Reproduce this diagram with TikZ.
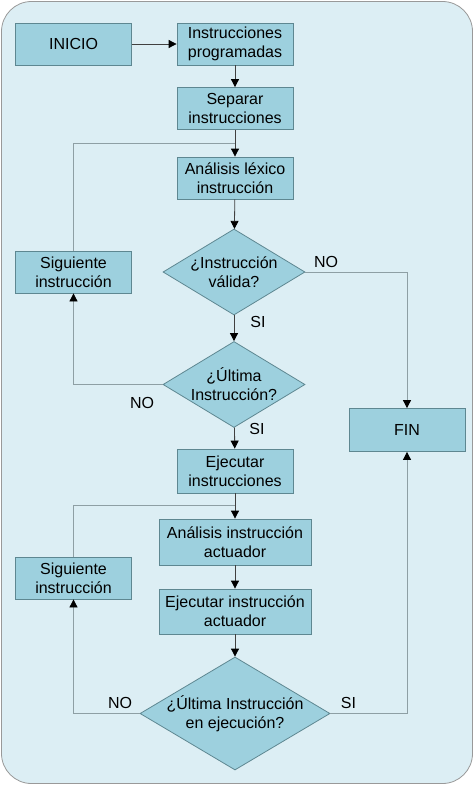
\documentclass[tikz,border=0pt]{standalone}
\usepackage{fontspec}
\setmainfont{Liberation Sans}
\usetikzlibrary{arrows.meta,shapes.geometric}
\definecolor{fondo}{HTML}{DCEEF4}
\definecolor{caja}{HTML}{9DD0DE}
\definecolor{borde}{HTML}{5E8791}
\definecolor{linea}{HTML}{8E9FA4}
\tikzset{
	bloque/.style={rectangle,fill=caja,draw=borde,line width=0.8,inner sep=0pt,align=center,minimum width=116bp,minimum height=42bp},
	bloqueancho/.style={bloque,minimum width=152bp,minimum height=46bp},
	decision/.style={diamond,fill=caja,draw=borde,line width=0.8,inner sep=0pt},
	flecha/.style={line width=0.8,draw=black!75,-{Triangle[length=8bp,width=8bp,color=black]}},
	retorno/.style={line width=0.8,draw=linea},
	etiqueta/.style={inner sep=0pt}
}
\begin{document}
\begin{tikzpicture}[x=1bp,y=-1bp,font=\fontsize{16bp}{19bp}\selectfont]
				\useasboundingbox (0,0) rectangle (474,785);
				\draw [rounded corners=30bp,fill=fondo,draw=gray!80,line width=0.8] (1.5,1.5) rectangle (472.5,783.5);
				\node [bloque] (inicio) at (73.5,44) {INICIO};
				\node [bloque] (prog) at (235,44) {Instrucciones\\programadas};
				\node [bloque] (separar) at (235,108.5) {Separar\\instrucciones};
				\node [bloque] (lexico) at (235,178) {Análisis léxico\\instrucción};
				\node [decision,minimum width=142bp,minimum height=86bp] (valida) at (234,272) {};
				\node (valida-t) at (valida) [align=center] {¿Instrucción\\válida?};
				\node [bloque] (sig1) at (73.5,272) {Siguiente\\instrucción};
				\node [decision,minimum width=142bp,minimum height=86bp] (ultima) at (234,384.5) {};
				\node (ultima-t) at (ultima) [align=center] {¿Última\\Instrucción?};
				\node [bloque,minimum height=43bp] (fin) at (407,430) {FIN};
				\node [bloque,minimum height=44bp] (ejec) at (235,471) {Ejecutar\\instrucciones};
				\node [bloqueancho] (analisis) at (235,542) {Análisis instrucción\\actuador};
				\node [bloqueancho,minimum height=45bp] (ejact) at (235,611.5) {Ejecutar instrucción\\actuador};
				\node [bloque] (sig2) at (73.5,578) {Siguiente\\instrucción};
				\node [decision,minimum width=190bp,minimum height=113bp] (ejecucion) at (235,713.5) {};
				\node (ejecucion-t) at (ejecucion) [align=center] {¿Última Instrucción\\en ejecución?};
				\coordinate (j1) at (235,143);
				\coordinate (j2) at (235,505);
				\draw [flecha] (inicio) -- (prog);
				\draw [flecha] (prog) -- (separar);
				\draw [flecha] (separar) -- (lexico);
				\draw [retorno] (sig1.north) |- (j1);
				\draw [flecha] (lexico) -- (valida);
				\draw [retorno,-{Triangle[length=8bp,width=8bp,color=black]}] (valida.east) -| (fin.north);
				\draw [flecha] (valida) -- (ultima);
				\draw [retorno,-{Triangle[length=8bp,width=8bp,color=black]}] (ultima.west) -| (sig1.south);
				\draw [flecha] (ultima) -- (ejec);
				\draw [flecha] (ejec) -- (analisis);
				\draw [retorno] (sig2.north) |- (j2);
				\draw [flecha] (analisis) -- (ejact);
				\draw [flecha] (ejact) -- (ejecucion);
				\draw [retorno,-{Triangle[length=8bp,width=8bp,color=black]}] (ejecucion.west) -| (sig2.south);
				\draw [retorno,-{Triangle[length=8bp,width=8bp,color=black]}] (ejecucion.east) -| (fin.south);
				\node [etiqueta] (no1) at (326,262) {NO};
				\node [etiqueta] (si1) at (258,321.5) {SI};
				\node [etiqueta] (no2) at (142,402.5) {NO};
				\node [etiqueta] (si2) at (257,428.5) {SI};
				\node [etiqueta] (no3) at (120,703) {NO};
				\node [etiqueta] (si3) at (348.5,703) {SI};
			\end{tikzpicture}
\end{document}
